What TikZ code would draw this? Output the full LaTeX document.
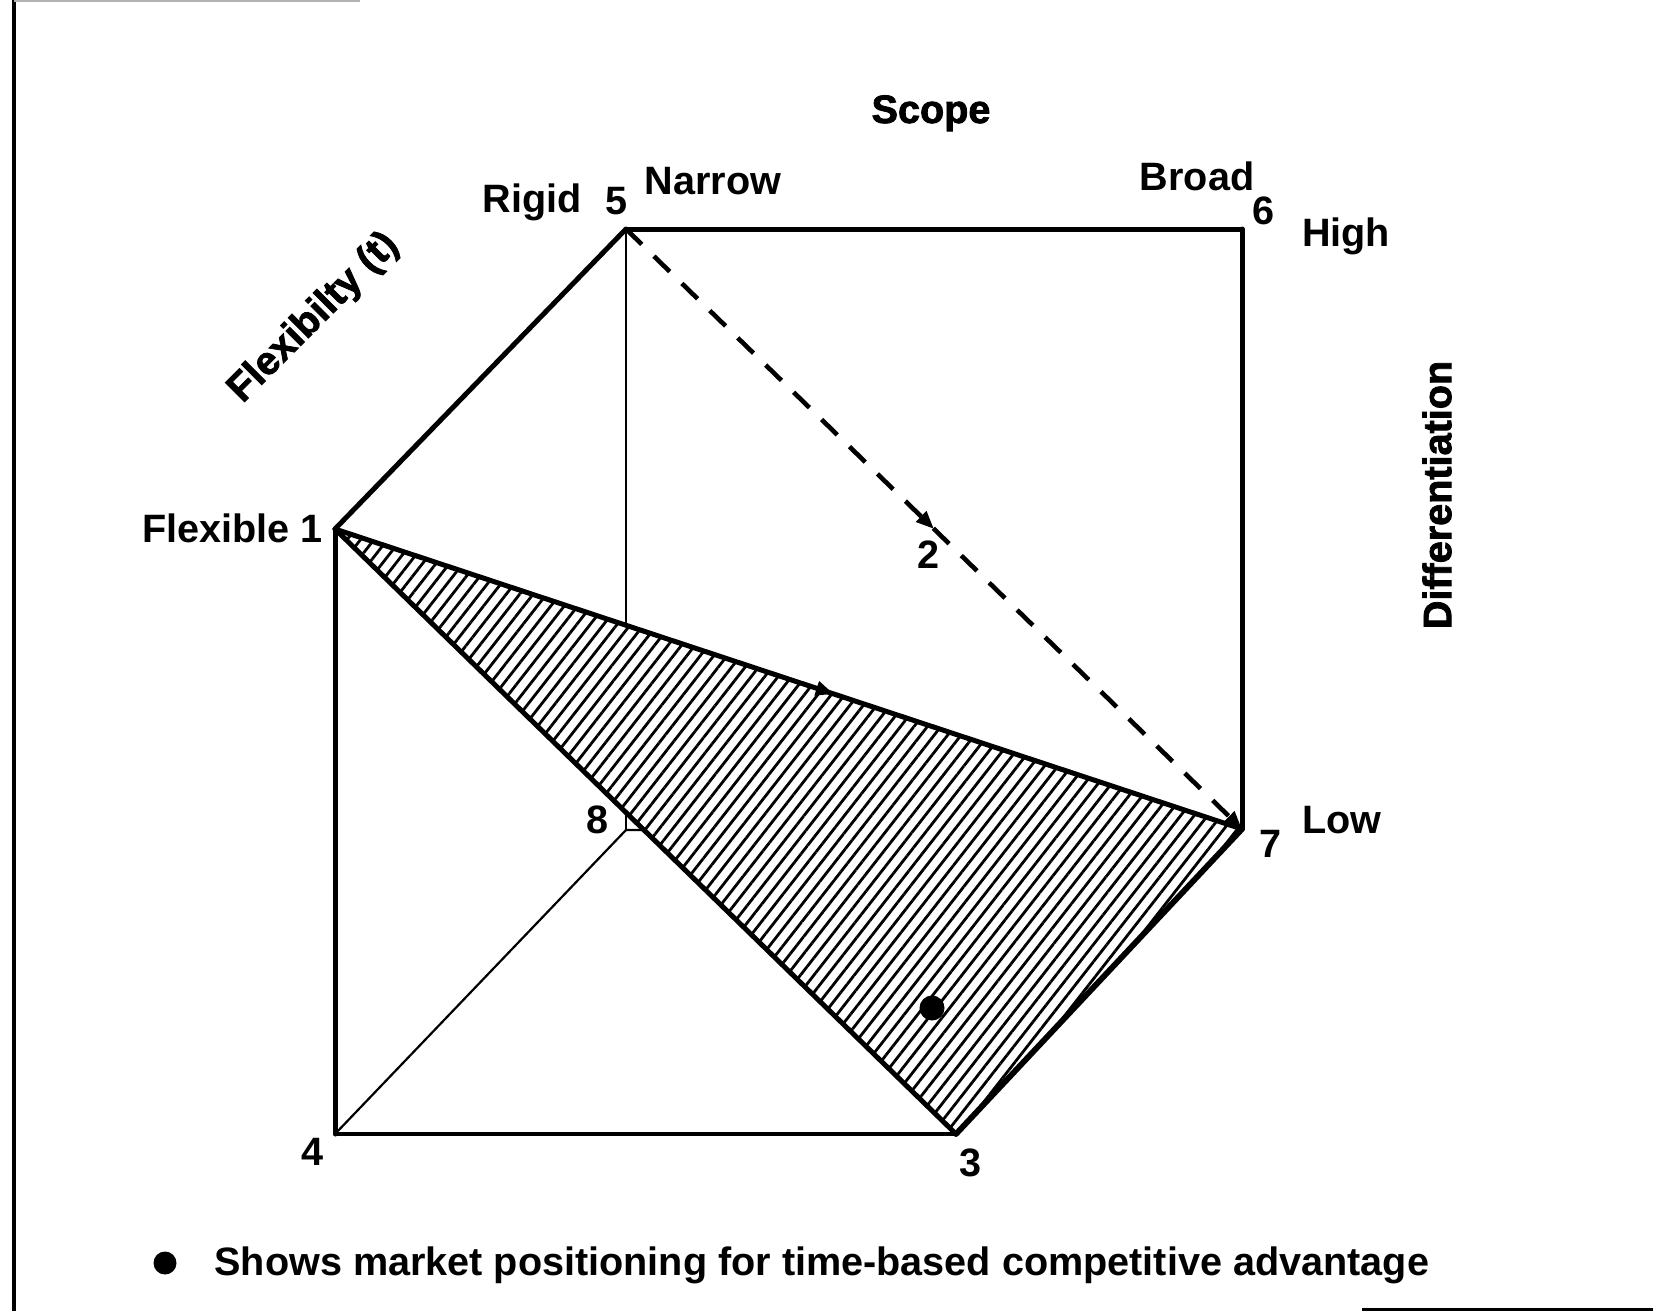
\documentclass[tikz,border=0pt]{standalone}
\usepackage{fontspec}
\setmainfont{Liberation Sans}
\newfontfamily\heavyfont[BoldFeatures={FakeBold=2}]{Liberation Sans}
\usetikzlibrary{arrows.meta,decorations.markings,patterns.meta}
\begin{document}
\begin{tikzpicture}[x=0.5pt,y=-0.5pt,
  lab/.style={font=\fontsize{19.8}{24}\selectfont\bfseries, inner sep=0pt, anchor=base},
  head/.style={font=\fontsize{19.8}{24}\selectfont\heavyfont\bfseries, inner sep=0pt},
  thickedge/.style={line width=2.5pt, line cap=round, line join=round},
  thinedge/.style={line width=1.1pt},
  midarrow/.style={postaction={decorate}, decoration={markings,
      mark=at position #1 with {\arrow{Triangle[length=9pt,width=7pt]}}}},
  dot/.style={circle, fill=black, inner sep=0pt, minimum size=#1},
]
\useasboundingbox (0,0) rectangle (1653,1311);
\fill[white] (0,0) rectangle (1653,1311);
% page border remnants
\draw[line width=2pt] (14,0) -- (14,1311);
\draw[gray!60, line width=0.8pt] (14,1) -- (360,1);
\draw[line width=1.5pt] (1362,1309) -- (1653,1309);

% vertices
\coordinate (p1) at (335,529);
\coordinate (p4) at (335,1134);
\coordinate (p3) at (956,1134);
\coordinate (p5) at (626,229);
\coordinate (p6) at (1242,229);
\coordinate (p7) at (1242,829);
\coordinate (p8) at (626,830);

% hidden/back edges (thin)
\draw[thinedge] (p5) -- (p8);
\draw[thinedge] (p8) -- (p7);
\draw[thinedge] (p8) -- (p4);

% hatched triangle
\path[fill=white] (p1) -- (p7) -- (p3) -- cycle;
\path[pattern={Lines[angle=52,distance=5.3pt,line width=1.4pt]}] (p1) -- (p7) -- (p3) -- cycle;

% main edges
\draw[thickedge] (p1) -- (p5);
\draw[thickedge] (p5) -- (p6);
\draw[thickedge] (p6) -- (p7);
\draw[thickedge] (p1) -- (p4);
\draw[line width=1.8pt] (p4) -- (p3);
\draw[thickedge] (p1) -- (p3);
\draw[line width=2.9pt, line cap=round] (p3) -- (p7);
\draw[thickedge, midarrow=0.55] (p1) -- (p7);

% dashed path 5 -> 2 -> 7
\draw[line width=2.3pt, dash pattern=on 11pt off 8.5pt, midarrow=0.5,
      -{Triangle[length=9pt,width=7pt]}] (p5) -- (p7);

% market position dot
\node[dot=12.5pt] (mkt) at (932,1008) {};

% labels
\node[head, anchor=base] (tscope) at (931,123) {Scope};
\node[lab] (tnarrow) at (713,194) {Narrow};
\node[lab] (tbroad) at (1197,190) {Broad};
\node[lab] (trigid) at (532,212) {Rigid};
\node[lab] (t5) at (617,214) {5};
\node[lab] (t6) at (1263,224) {6};
\node[lab] (thigh) at (1346,246) {High};
\node[lab, anchor=base east] (tflex) at (323,542) {Flexible 1};
\node[lab] (t2) at (928,568) {2};
\node[lab] (tlow) at (1342,833) {Low};
\node[lab] (t7) at (1270,857) {7};
\node[lab] (t8) at (598,833) {8};
\node[lab] (t4) at (313,1165) {4};
\node[lab] (t3) at (970,1176) {3};
\node[head, anchor=center, rotate=90] (tdiff) at (1437,495) {Differentiation};
\node[head, anchor=center, rotate=45] (tflexy) at (314,318) {Flexibilty (t)};

% legend
\node[dot=11.5pt] (ldot) at (165,1263) {};
\node[lab, anchor=base west] (legend) at (214,1275) {Shows market positioning for time-based competitive advantage};
\end{tikzpicture}
\end{document}
